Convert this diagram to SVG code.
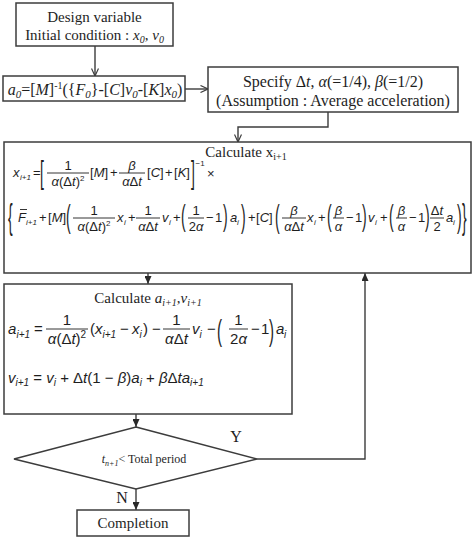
<svg xmlns="http://www.w3.org/2000/svg" width="474" height="539" viewBox="0 0 474 539">
<defs>
<style>
.box{fill:#fff;stroke:#3c3c3c;stroke-width:1.5}
.ln{fill:none;stroke:#3c3c3c;stroke-width:1.4}
.t{font-family:"Liberation Serif","Times New Roman",serif;fill:#1e1e1e}
.m{font-family:"Liberation Sans",Arial,sans-serif;fill:#1e1e1e;font-size:13px}
.i{font-style:italic}
.s{font-size:8px}
.d{font-size:14px}
.bar{stroke:#1e1e1e;stroke-width:0.9}
.m5{font-family:"Liberation Sans",Arial,sans-serif;fill:#1e1e1e;font-size:15px}
.s5{font-size:10px}
</style>
<marker id="open" markerWidth="9" markerHeight="8" refX="8" refY="4" orient="auto" markerUnits="userSpaceOnUse">
<path d="M0.5,0.5 L8,4 L0.5,7.5" fill="none" stroke="#3c3c3c" stroke-width="1.2"/>
</marker>
<marker id="fill" markerWidth="8" markerHeight="7" refX="8" refY="3.5" orient="auto" markerUnits="userSpaceOnUse">
<path d="M0,0 L8,3.5 L0,7 z" fill="#2a2a2a"/>
</marker>
</defs>
<rect width="474" height="539" fill="#fff"/>

<g id="connectors">
<line class="ln" x1="95" y1="46" x2="95" y2="76" marker-end="url(#open)"/>
<line class="ln" x1="185" y1="89" x2="208" y2="89" marker-end="url(#open)"/>
<polyline class="ln" points="328,112 328,127 238,127 238,142" marker-end="url(#open)"/>
<line class="ln" x1="148" y1="273" x2="148" y2="284" marker-end="url(#fill)"/>
<line class="ln" x1="136" y1="414" x2="136" y2="427" marker-end="url(#fill)"/>
<line class="ln" x1="136" y1="489" x2="136" y2="510" marker-end="url(#fill)"/>
<polyline class="ln" points="257,459 365,459 365,273" marker-end="url(#fill)"/>
<text class="t" x="236" y="442" font-size="16" text-anchor="middle">Y</text>
<text class="t" x="122" y="503" font-size="16" text-anchor="middle">N</text>
</g>

<g id="n1">
<rect class="box" x="16" y="3" width="157" height="43"/>
<text class="t" x="94.5" y="22" font-size="15" text-anchor="middle">Design variable</text>
<text class="t" x="94.5" y="40" font-size="15" text-anchor="middle">Initial condition : <tspan font-style="italic">x</tspan><tspan font-style="italic" font-size="10" dy="3">0</tspan><tspan dy="-3">, </tspan><tspan font-style="italic">v</tspan><tspan font-style="italic" font-size="10" dy="3">0</tspan></text>
</g>

<g id="n2">
<rect class="box" x="3" y="76" width="182" height="25"/>
<text class="t" x="95" y="95" font-size="16" text-anchor="middle"><tspan font-style="italic">a</tspan><tspan font-style="italic" font-size="11" dy="3">0</tspan><tspan dy="-3">=[</tspan><tspan font-style="italic">M</tspan><tspan>]</tspan><tspan font-size="10" dy="-6">-1</tspan><tspan dy="6">({</tspan><tspan font-style="italic">F</tspan><tspan font-style="italic" font-size="11" dy="3">0</tspan><tspan dy="-3">}-[</tspan><tspan font-style="italic">C</tspan><tspan>]</tspan><tspan font-style="italic">v</tspan><tspan font-style="italic" font-size="11" dy="3">0</tspan><tspan dy="-3">-[</tspan><tspan font-style="italic">K</tspan><tspan>]</tspan><tspan font-style="italic">x</tspan><tspan font-style="italic" font-size="11" dy="3">0</tspan><tspan dy="-3">)</tspan></text>
</g>

<g id="n3">
<rect class="box" x="208" y="67" width="250" height="45"/>
<text class="t" x="333" y="87" font-size="16" text-anchor="middle">Specify Δ<tspan font-style="italic">t</tspan>, <tspan font-style="italic">α</tspan>(=1/4), <tspan font-style="italic">β</tspan>(=1/2)</text>
<text class="t" x="333" y="106" font-size="16" text-anchor="middle">(Assumption : Average acceleration)</text>
</g>

<g id="n4">
<rect class="box" x="4" y="142" width="467" height="131"/>
<text class="t" x="246" y="157" font-size="15" text-anchor="middle">Calculate x<tspan font-size="10" dy="3">i+1</tspan></text>
<!-- line 1 -->
<text class="m i" x="13" y="177">x</text>
<text class="m i s" x="20" y="180">i+1</text>
<text class="m" x="33" y="177">=</text>
<text class="m d" transform="translate(40,183) scale(1,2.3)">[</text>
<line class="bar" x1="47" y1="173" x2="89" y2="173"/>
<text class="m" x="68" y="170" text-anchor="middle">1</text>
<text class="m" x="68" y="186" text-anchor="middle"><tspan class="i">α</tspan>(Δ<tspan class="i">t</tspan>)<tspan class="s" dy="-5">2</tspan></text>
<text class="m" x="90" y="177">[<tspan class="i">M</tspan>]</text>
<text class="m" x="110" y="177">+</text>
<line class="bar" x1="119" y1="173" x2="145" y2="173"/>
<text class="m i" x="132" y="170" text-anchor="middle">β</text>
<text class="m" x="132" y="186" text-anchor="middle"><tspan class="i">α</tspan>Δ<tspan class="i">t</tspan></text>
<text class="m" x="147" y="177">[<tspan class="i">C</tspan>]</text>
<text class="m" x="165" y="177">+</text>
<text class="m" x="174" y="177">[<tspan class="i">K</tspan>]</text>
<text class="m d" transform="translate(191,183) scale(1,2.3)">]</text>
<text class="m s" x="195.5" y="166">−1</text>
<text class="m" x="207" y="178" font-size="12">×</text>
<!-- line 2 -->
<text class="m d" transform="translate(8,228.6) scale(1,2.5)">{</text>
<text class="m i" x="18" y="222">F</text>
<line class="bar" x1="20" y1="209.5" x2="27" y2="209.5"/>
<text class="m i s" x="26" y="225">i+1</text>
<text class="m" x="39" y="222">+</text>
<text class="m" x="48" y="222">[<tspan class="i">M</tspan>]</text>
<text class="m d" transform="translate(66,227) scale(1,2.3)">(</text>
<line class="bar" x1="73" y1="218" x2="115" y2="218"/>
<text class="m" x="94" y="215" text-anchor="middle">1</text>
<text class="m" x="94" y="231" text-anchor="middle"><tspan class="i">α</tspan>(Δ<tspan class="i">t</tspan>)<tspan class="s" dy="-5">2</tspan></text>
<text class="m i" x="117" y="222">x</text>
<text class="m i s" x="124" y="225">i</text>
<text class="m" x="128" y="222">+</text>
<line class="bar" x1="136" y1="218" x2="160" y2="218"/>
<text class="m" x="148" y="215" text-anchor="middle">1</text>
<text class="m" x="148" y="231" text-anchor="middle"><tspan class="i">α</tspan>Δ<tspan class="i">t</tspan></text>
<text class="m i" x="162" y="222">v</text>
<text class="m i s" x="169" y="225">i</text>
<text class="m" x="173" y="222">+</text>
<text class="m d" transform="translate(181,226) scale(1,2.1)">(</text>
<line class="bar" x1="188" y1="218" x2="204" y2="218"/>
<text class="m" x="196" y="215" text-anchor="middle">1</text>
<text class="m" x="196" y="231" text-anchor="middle">2<tspan class="i">α</tspan></text>
<text class="m" x="206" y="222">−</text>
<text class="m" x="215" y="222">1</text>
<text class="m d" transform="translate(223,226) scale(1,2.1)">)</text>
<text class="m i" x="230" y="222">a</text>
<text class="m i s" x="237" y="225">i</text>
<text class="m d" transform="translate(241,227) scale(1,2.3)">)</text>
<text class="m" x="248" y="222">+</text>
<text class="m" x="256" y="222">[<tspan class="i">C</tspan>]</text>
<text class="m d" transform="translate(275,227) scale(1,2.3)">(</text>
<line class="bar" x1="282" y1="218" x2="306" y2="218"/>
<text class="m i" x="294" y="215" text-anchor="middle">β</text>
<text class="m" x="294" y="231" text-anchor="middle"><tspan class="i">α</tspan>Δ<tspan class="i">t</tspan></text>
<text class="m i" x="307" y="222">x</text>
<text class="m i s" x="314" y="225">i</text>
<text class="m" x="318" y="222">+</text>
<text class="m d" transform="translate(327,226) scale(1,2.1)">(</text>
<line class="bar" x1="333" y1="218" x2="344" y2="218"/>
<text class="m i" x="338.5" y="215" text-anchor="middle">β</text>
<text class="m i" x="338.5" y="231" text-anchor="middle">α</text>
<text class="m" x="346" y="222">−</text>
<text class="m" x="355" y="222">1</text>
<text class="m d" transform="translate(362,226) scale(1,2.1)">)</text>
<text class="m i" x="368" y="222">v</text>
<text class="m i s" x="375" y="225">i</text>
<text class="m" x="380" y="222">+</text>
<text class="m d" transform="translate(389,226) scale(1,2.1)">(</text>
<line class="bar" x1="396" y1="218" x2="407" y2="218"/>
<text class="m i" x="401.5" y="215" text-anchor="middle">β</text>
<text class="m i" x="401.5" y="231" text-anchor="middle">α</text>
<text class="m" x="409" y="222">−</text>
<text class="m" x="418" y="222">1</text>
<text class="m d" transform="translate(425,226) scale(1,2.1)">)</text>
<line class="bar" x1="430" y1="218" x2="444" y2="218"/>
<text class="m" x="437" y="215" text-anchor="middle">Δ<tspan class="i">t</tspan></text>
<text class="m" x="437" y="231" text-anchor="middle">2</text>
<text class="m i" x="446" y="222">a</text>
<text class="m i s" x="453" y="225">i</text>
<text class="m d" transform="translate(457,227) scale(1,2.3)">)</text>
<text class="m d" transform="translate(462,228.6) scale(1,2.5)">}</text>
</g>

<g id="n5">
<rect class="box" x="4" y="284" width="288" height="130"/>
<text class="t" x="148" y="303" font-size="15" text-anchor="middle">Calculate <tspan font-style="italic">a</tspan><tspan font-style="italic" font-size="10" dy="3">i+1</tspan><tspan dy="-3">,</tspan><tspan font-style="italic">v</tspan><tspan font-style="italic" font-size="10" dy="3">i+1</tspan></text>
<!-- a line -->
<text class="m5 i" x="8" y="334">a</text>
<text class="m5 i s5" x="16.5" y="338">i+1</text>
<text class="m5" x="34" y="334">=</text>
<line class="bar" x1="46" y1="329" x2="88" y2="329"/>
<text class="m5" x="67" y="325" text-anchor="middle">1</text>
<text class="m5" x="67" y="344" text-anchor="middle"><tspan class="i">α</tspan>(Δ<tspan class="i">t</tspan>)<tspan class="s5" dy="-6">2</tspan></text>
<text class="m5" x="90" y="334">(</text>
<text class="m5 i" x="95" y="334">x</text>
<text class="m5 i s5" x="102.5" y="338">i+1</text>
<text class="m5" x="120" y="334">−</text>
<text class="m5 i" x="132" y="334">x</text>
<text class="m5 i s5" x="139.5" y="338">i</text>
<text class="m5" x="143" y="334">)</text>
<text class="m5" x="152" y="334">−</text>
<line class="bar" x1="163" y1="329" x2="190" y2="329"/>
<text class="m5" x="176.5" y="325" text-anchor="middle">1</text>
<text class="m5" x="176.5" y="344" text-anchor="middle"><tspan class="i">α</tspan>Δ<tspan class="i">t</tspan></text>
<text class="m5 i" x="192" y="334">v</text>
<text class="m5 i s5" x="199.5" y="338">i</text>
<text class="m5" x="207" y="334">−</text>
<text class="m5" font-size="17" transform="translate(217,341) scale(1,2)">(</text>
<line class="bar" x1="229" y1="329" x2="248" y2="329"/>
<text class="m5" x="238.5" y="325" text-anchor="middle">1</text>
<text class="m5" x="238.5" y="344" text-anchor="middle">2<tspan class="i">α</tspan></text>
<text class="m5" x="251" y="334">−</text>
<text class="m5" x="261" y="334">1</text>
<text class="m5" font-size="17" transform="translate(269,341) scale(1,2)">)</text>
<text class="m5 i" x="276" y="334">a</text>
<text class="m5 i s5" x="284" y="338">i</text>
<!-- v line -->
<text class="m5" x="8" y="383"><tspan class="i">v</tspan><tspan class="i s5" dy="3">i+1</tspan><tspan dy="-3"> = </tspan><tspan class="i">v</tspan><tspan class="i s5" dy="3">i</tspan><tspan dy="-3"> + Δ</tspan><tspan class="i">t</tspan><tspan>(1 − </tspan><tspan class="i">β</tspan><tspan>)</tspan><tspan class="i">a</tspan><tspan class="i s5" dy="3">i</tspan><tspan dy="-3"> + </tspan><tspan class="i">β</tspan><tspan>Δ</tspan><tspan class="i">ta</tspan><tspan class="i s5" dy="3">i+1</tspan></text>
</g>

<g id="n6">
<polygon class="box" points="136,427 257,459 136,489 14,459"/>
<text class="t" x="144" y="463" font-size="12" text-anchor="middle"><tspan font-style="italic">t</tspan><tspan font-style="italic" font-size="8" dy="3">n+1</tspan><tspan dy="-3">&lt; Total period</tspan></text>
</g>

<g id="n7">
<rect class="box" x="77" y="510" width="112" height="26"/>
<text class="t" x="133" y="528" font-size="15" text-anchor="middle">Completion</text>
</g>
</svg>
